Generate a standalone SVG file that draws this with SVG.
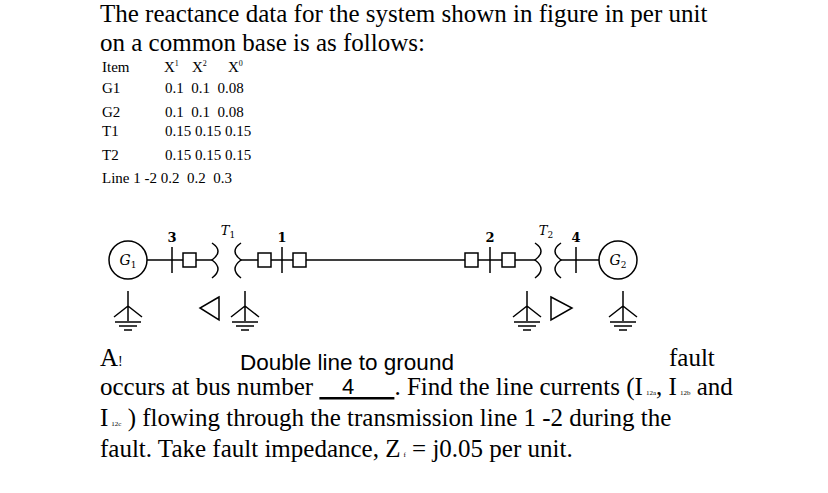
<svg xmlns="http://www.w3.org/2000/svg" width="828" height="493" viewBox="0 0 828 493">
<style>
.s{font-family:"Liberation Serif",serif;fill:#000}
.t{font-size:15px}
.b{font-size:25px}
.l{stroke:#000;stroke-width:1.5;fill:none}
.w{stroke:#000;stroke-width:1.5;fill:#fff}
.lb{font-family:"DejaVu Serif",serif;font-size:13px;font-weight:bold;text-anchor:middle}
</style>
<defs>
<g id="gnd" class="l">
<path d="M0,0V30M0,15L-14,26M0,15L14,26M-13,31H13M-9,35H9M-4,39H4"/>
</g>
</defs>
<rect width="828" height="493" fill="#fff"/>
<text class="s b" x="100" y="22">The reactance data for the system shown in figure in per unit</text>
<text class="s b" x="100" y="51">on a common base is as follows:</text>
<g class="s t">
<text x="102" y="72">Item</text><text x="164" y="72">X<tspan font-size="8" dy="-6">1</tspan></text><text x="192" y="72">X<tspan font-size="8" dy="-6">2</tspan></text><text x="228" y="72">X<tspan font-size="8" dy="-6">0</tspan></text>
<text x="102" y="93">G1</text><text x="165" y="93">0.1&#160; 0.1&#160; 0.08</text>
<text x="102" y="117">G2</text><text x="165" y="117">0.1&#160; 0.1&#160; 0.08</text>
<text x="102" y="136">T1</text><text x="165" y="136">0.15 0.15 0.15</text>
<text x="102" y="160">T2</text><text x="165" y="160">0.15 0.15 0.15</text>
<text x="102" y="183">Line 1 -2 0.2&#160; 0.2&#160; 0.3</text>
</g>
<g id="connectors" class="l">
<path d="M147,260H212M241,260H258M271,260H293M306,260H465M478,260H502M515,260H535M561,260H599"/>
</g>
<g id="G1"><circle class="w" cx="128" cy="260" r="19"/><text x="128" y="265" font-family="DejaVu Serif" font-style="italic" font-size="14" text-anchor="middle">G<tspan font-size="9" dy="3" font-style="normal">1</tspan></text><use href="#gnd" x="128" y="291"/></g>
<g id="bus3"><path class="l" d="M172,247V273"/><text class="lb" x="172" y="242">3</text><rect class="w" x="183" y="253" width="13" height="14"/></g>
<g id="T1" class="l">
<path d="M212,243Q224,251 212,260Q224,269 212,278M241,243Q229,251 241,260Q229,269 241,278"/>
<path d="M219,297L200,308L219,320Z"/>
<use href="#gnd" x="245" y="291"/>
</g>
<text x="228" y="235" font-family="DejaVu Serif" font-style="italic" font-size="13" text-anchor="middle">T<tspan font-size="9" dy="3" font-style="normal">1</tspan></text>
<g id="bus1"><rect class="w" x="258" y="253" width="13" height="14"/><path class="l" d="M282,247V273"/><text class="lb" x="282" y="242">1</text><rect class="w" x="293" y="253" width="13" height="14"/></g>
<g id="bus2"><rect class="w" x="465" y="253" width="13" height="14"/><path class="l" d="M490,247V273"/><text class="lb" x="490" y="242">2</text><rect class="w" x="502" y="253" width="13" height="14"/></g>
<g id="T2" class="l">
<path d="M535,243Q547,251 535,260Q547,269 535,278M561,243Q549,251 561,260Q549,269 561,278"/>
<path d="M551,297L572,308L551,320Z"/>
<use href="#gnd" x="527" y="291"/>
</g>
<text x="546" y="235" font-family="DejaVu Serif" font-style="italic" font-size="13" text-anchor="middle">T<tspan font-size="9" dy="3" font-style="normal">2</tspan></text>
<g id="bus4"><path class="l" d="M576,247V273"/><text class="lb" x="576" y="242">4</text></g>
<g id="G2"><circle class="w" cx="618" cy="260" r="19"/><text x="618" y="265" font-family="DejaVu Serif" font-style="italic" font-size="14" text-anchor="middle">G<tspan font-size="9" dy="3" font-style="normal">2</tspan></text><use href="#gnd" x="623" y="291"/></g>
<g class="s b">
<text x="100" y="366">A<tspan font-size="14">!</tspan></text>
<text x="669" y="366">fault</text>
<text x="100" y="395">occurs at bus number <tspan text-decoration="underline">&#160;&#160;&#160;&#160;&#160;&#160;&#160;&#160;&#160;&#160;&#160;&#160;</tspan>. Find the line currents (I<tspan font-size="7" dx="3">12a</tspan>, I<tspan font-size="7" dx="3">12b</tspan> and</text>
<text x="100" y="426">I<tspan font-size="7" dx="3">12c</tspan> ) flowing through the transmission line 1 -2 during the</text>
<text x="100" y="457">fault. Take fault impedance, Z<tspan font-size="7" dx="3">f</tspan> = j0.05 per unit.</text>
</g>
<text x="240" y="370" font-family="Liberation Sans,sans-serif" font-size="22.5">Double line to ground</text>
<text x="342" y="394" font-family="Liberation Sans,sans-serif" font-size="22">4</text>
</svg>
